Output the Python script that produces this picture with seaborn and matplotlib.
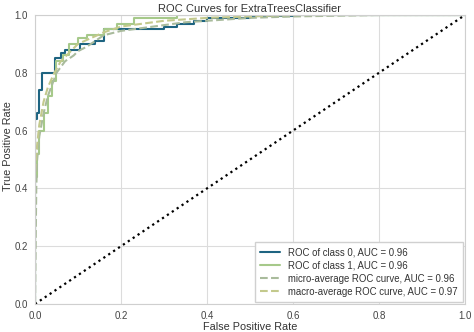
import numpy as np
import pandas as pd
import matplotlib
matplotlib.use("Agg")
import matplotlib.pyplot as plt
import seaborn as sns

title = "ROC Curves for ExtraTreesClassifier"
xlabel = "False Positive Rate"
ylabel = "True Positive Rate"

labels = ["ROC of class 0, AUC = 0.96",
          "ROC of class 1, AUC = 0.96",
          "micro-average ROC curve, AUC = 0.96",
          "macro-average ROC curve, AUC = 0.97"]

fpr_class0 = [0.0, 0.0, 0.005, 0.005, 0.01, 0.01, 0.016, 0.016, 0.047, 0.047, 0.06, 0.06,
              0.07, 0.07, 0.105, 0.105, 0.14, 0.14, 0.16, 0.16, 0.30, 0.30, 0.33, 0.33,
              0.37, 0.37, 0.40, 0.40, 0.5, 0.5, 0.6, 0.6, 1.0]
tpr_class0 = [0.0, 0.64, 0.64, 0.66, 0.66, 0.74, 0.74, 0.80, 0.80, 0.85, 0.85, 0.87,
              0.87, 0.88, 0.88, 0.90, 0.90, 0.91, 0.91, 0.95, 0.95, 0.96, 0.96, 0.97,
              0.97, 0.98, 0.98, 0.99, 0.99, 0.995, 0.995, 1.0, 1.0]

fpr_class1 = [0.0, 0.0, 0.005, 0.005, 0.01, 0.01, 0.02, 0.02, 0.03, 0.03, 0.04, 0.04,
              0.05, 0.05, 0.065, 0.065, 0.08, 0.08, 0.1, 0.1, 0.12, 0.12, 0.16, 0.16,
              0.19, 0.19, 0.23, 0.23, 0.33, 0.33, 1.0]
tpr_class1 = [0.0, 0.44, 0.44, 0.52, 0.52, 0.60, 0.60, 0.66, 0.66, 0.72, 0.72, 0.77,
              0.77, 0.84, 0.84, 0.86, 0.86, 0.90, 0.90, 0.92, 0.92, 0.93, 0.93, 0.95,
              0.95, 0.97, 0.97, 0.99, 0.99, 1.0, 1.0]

fpr_micro = [0.0, 0.003, 0.005, 0.01, 0.02, 0.03, 0.04, 0.05, 0.07, 0.09, 0.1, 0.12,
             0.14, 0.16, 0.2, 0.25, 0.3, 0.35, 0.4, 0.5, 0.6, 0.8, 1.0]
tpr_micro = [0.0, 0.40, 0.50, 0.58, 0.66, 0.72, 0.76, 0.80, 0.84, 0.86, 0.875, 0.89,
             0.91, 0.93, 0.945, 0.955, 0.965, 0.975, 0.98, 0.99, 0.995, 1.0, 1.0]

fpr_macro = [0.0, 0.0, 0.005, 0.01, 0.02, 0.03, 0.045, 0.06, 0.08, 0.1, 0.13, 0.16,
             0.2, 0.25, 0.3, 0.4, 0.5, 0.6, 1.0]
tpr_macro = [0.0, 0.45, 0.55, 0.62, 0.70, 0.75, 0.80, 0.84, 0.87, 0.90, 0.92, 0.94,
             0.96, 0.97, 0.98, 0.99, 0.995, 1.0, 1.0]

diag = [0.0, 1.0]
ticks = [0.0, 0.2, 0.4, 0.6, 0.8, 1.0]

sns.set_style("whitegrid", {"grid.color": "#dcdcdc", "axes.edgecolor": "#cfcfcf"})
plt.rcParams["font.family"] = ["Liberation Sans", "DejaVu Sans"]

fig = plt.figure(figsize=(4.74, 3.32), dpi=100)
ax = fig.add_axes([0.0738, 0.0843, 0.9072, 0.8705])

colors = ["#1e6481", "#a6c98a", "#a9bb9c", "#c3c98c"]
styles = ["-", "-", "--", "--"]
series = [(fpr_class0, tpr_class0), (fpr_class1, tpr_class1),
          (fpr_micro, tpr_micro), (fpr_macro, tpr_macro)]
for (fx, ty), c, ls, lab in zip(series, colors, styles, labels):
    sns.lineplot(x=fx, y=ty, sort=False, estimator=None, ax=ax, color=c,
                 linestyle=ls, linewidth=1.5, label=lab)

sns.lineplot(x=diag, y=diag, sort=False, estimator=None, ax=ax, color="black",
             linestyle=":", linewidth=1.6)

ax.set_xlim(0, 1)
ax.set_ylim(0, 1)
ax.set_xticks(ticks)
ax.set_yticks(ticks)
ax.tick_params(labelsize=7, colors="#444444", pad=5.2, length=0)
ax.set_title(title, fontsize=8, pad=2, color="#333333")
ax.set_xlabel(xlabel, fontsize=7.8, color="#333333")
ax.set_ylabel(ylabel, fontsize=7.8, color="#333333")
ax.yaxis.set_label_coords(-0.051, 0.547)
ax.xaxis.set_label_coords(0.5, -0.062)
leg = ax.legend(loc="lower right", fontsize=6.9, frameon=True, framealpha=1,
                edgecolor="#d0d0d0", fancybox=False, handlelength=2.1,
                borderpad=0.55, labelspacing=0.32, handletextpad=0.8,
                borderaxespad=0, bbox_to_anchor=(0.995, 0.007))
for t in leg.get_texts():
    t.set_color("#333333")

fig.savefig("out.png", dpi=100)
